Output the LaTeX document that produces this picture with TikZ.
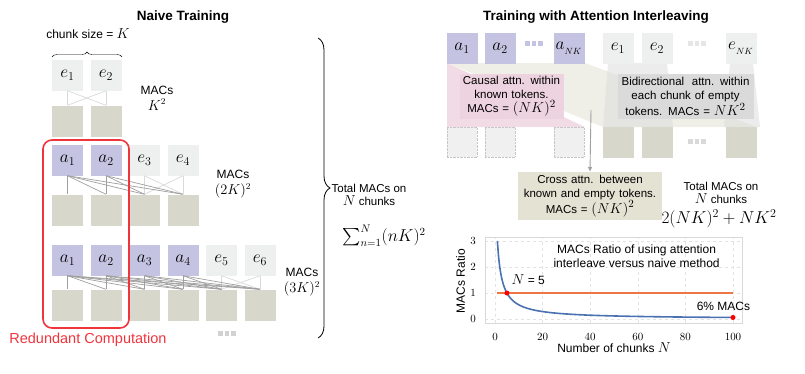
\documentclass[tikz,border=0pt]{standalone}
\usepackage{fontspec}
\setmainfont{Liberation Sans}
\usepackage{amsmath}
\usetikzlibrary{arrows.meta, calc, positioning, decorations.pathreplacing}
\definecolor{knowncol}{RGB}{196, 196, 226}
\definecolor{emptycol}{RGB}{238, 240, 239}
\definecolor{outcol}{RGB}{215, 215, 203}
\definecolor{pinkcol}{RGB}{237, 211, 223}
\definecolor{bicol}{RGB}{217, 218, 217}
\definecolor{crosscol}{RGB}{228, 226, 211}
\definecolor{bandcol}{RGB}{226, 225, 212}
\definecolor{curveblue}{RGB}{74, 114, 178}
\definecolor{lineorange}{RGB}{236, 118, 70}
\definecolor{redboxcol}{RGB}{240, 52, 60}
\newcommand{\bigmath}[1]{{\fontsize{15}{15}\selectfont$#1$}}
\newcommand{\midmath}[1]{{\fontsize{13.5}{13.5}\selectfont$#1$}}

\tikzset{
	tok/.style={minimum size=31pt, inner sep=0pt, font=\fontsize{18}{18}\selectfont},
	atok/.style={tok, fill=knowncol},
	etok/.style={tok, fill=emptycol},
	outbox/.style={minimum size=31pt, inner sep=0pt, fill=outcol},
	ghostbox/.style={minimum size=30pt, inner sep=0pt, fill=gray!12, draw=gray!45, densely dotted},
	causal/.style={draw=gray!75, line width=0.7pt},
	bidir/.style={draw=gray!30, line width=0.7pt},
	title/.style={font=\fontsize{13.5}{15}\selectfont\bfseries},
	lbl/.style={font=\fontsize{12}{14}\selectfont, align=center},
	smalllbl/.style={font=\fontsize{11.5}{13}\selectfont, align=center},
	infobox/.style={font=\fontsize{11.5}{14}\selectfont, align=center, inner sep=3pt},
	gridline/.style={draw=gray!22, dashed, line width=0.5pt},
	dot/.style={circle, fill=red, inner sep=0pt, minimum size=5pt}
}

\begin{document}
\begin{tikzpicture}[x=1pt, y=-1pt]
	\useasboundingbox (0,0) rectangle (805,373);
	
	% Naive training
	\node[title] (naive) at (183,17) {Naive Training};
	\node[lbl] (chunk) at (88,34) {chunk size = \midmath{K}};
	\draw[decorate, decoration={brace, amplitude=5pt}] (52,57) -- (122,57);
	
	\foreach \i in {1,2}
	{
		\node[etok] (r1t\i) at ({67.5+38.5*(\i-1)},75) {$e_{\i}$};
		\node[outbox] (r1o\i) at ({67.5+38.5*(\i-1)},121) {};
	}
	\foreach \i in {1,2}
		\foreach \j in {1,2}
			\draw[bidir] (r1t\i.south) -- (r1o\j.north);
	\node[lbl] (mac1) at (157,98) {MACs\\[2pt]\midmath{K^2}};
	
	\foreach \i/\s/\l in {1/atok/a,2/atok/a,3/etok/e,4/etok/e}
	{
		\node[\s] (r2t\i) at ({67.5+38.5*(\i-1)},160) {$\l_{\i}$};
		\node[outbox] (r2o\i) at ({67.5+38.5*(\i-1)},210) {};
	}
	\foreach \i in {3,4}
		\foreach \j in {3,4}
			\draw[bidir] (r2t\i.south) -- (r2o\j.north);
	\foreach \i in {1,2}
		\foreach \j in {\i,...,4}
			\draw[causal] (r2t\i.south) -- (r2o\j.north);
	\node[lbl] (mac2) at (233,184) {MACs\\[2pt]\midmath{(2K)^2}};
	
	\foreach \i/\s/\l in {1/atok/a,2/atok/a,3/atok/a,4/atok/a,5/etok/e,6/etok/e}
	{
		\node[\s] (r3t\i) at ({67.5+38.5*(\i-1)},260) {$\l_{\i}$};
		\node[outbox] (r3o\i) at ({67.5+38.5*(\i-1)},305) {};
	}
	\foreach \i in {5,6}
		\foreach \j in {5,6}
			\draw[bidir] (r3t\i.south) -- (r3o\j.north);
	\foreach \i in {1,...,4}
		\foreach \j in {\i,...,6}
			\draw[causal] (r3t\i.south) -- (r3o\j.north);
	\node[lbl] (mac3) at (302,282) {MACs\\[2pt]\midmath{(3K)^2}};
	\foreach \k in {0,1,2}
		\fill[gray!35] (218+\k*6.5,331) rectangle ++(4.5,4.5);
	
	\draw[redboxcol, line width=1.6pt, rounded corners=9pt] (43,140) rectangle (129,328);
	\node[font=\fontsize{14.5}{16}\selectfont, text=redboxcol] (redund) at (88,340) {Redundant Computation};
	
	\draw[decorate, decoration={brace, amplitude=12pt}, line width=0.8pt] (318,38) -- (318,338);
	\node[smalllbl] (totl) at (369,195) {Total MACs on\\\midmath{N} chunks};
	\node[font=\fontsize{16}{16}\selectfont, inner sep=1pt] (suml) at (384,236) {$\sum_{n=1}^{N}(nK)^2$};
	
	% Attention interleaving
	\node[title] (inter) at (596,17) {Training with Attention Interleaving};
	\fill[bandcol, opacity=0.55] (447,63) -- (585,63) -- (757,127) -- (603,127) -- cycle;
	\fill[pinkcol, opacity=0.8] (447,63) -- (585,127) -- (447,127) -- cycle;
	\fill[bicol, opacity=0.5] (608,63) -- (667,63) -- (673,127) -- (603,127) -- cycle;
	\fill[bicol, opacity=0.5] (730,63) -- (753,63) -- (760,127) -- (724,127) -- cycle;
	
	\node[atok] (ka1) at (462,48) {$a_1$};
	\node[atok] (ka2) at (500,48) {$a_2$};
	\node[atok] (kaN) at (569,48) {$a_{_{NK}}$};
	\node[etok] (ke1) at (618,48) {$e_1$};
	\node[etok] (ke2) at (657,48) {$e_2$};
	\node[etok] (keN) at (741,48) {$e_{_{NK}}$};
	\node[ghostbox] (kg1) at (462,142) {};
	\node[ghostbox] (kg2) at (500,142) {};
	\node[ghostbox] (kgN) at (569,142) {};
	\node[outbox] (ko1) at (618,142) {};
	\node[outbox] (ko2) at (657,142) {};
	\node[outbox] (koN) at (741,142) {};
	\foreach \k in {0,1,2}
	{
		\fill[knowncol] (525+\k*6.5,41) rectangle ++(4.5,4.5);
		\fill[gray!20] (688+\k*6.5,41) rectangle ++(4.5,4.5);
		\fill[gray!30] (688+\k*6.5,139) rectangle ++(4.5,4.5);
	}
	
	\node[infobox, fill=pinkcol, text width=98pt] (causalbox) at (511.5,96.5) {Causal attn. within\\known tokens.\\MACs = \bigmath{(NK)^2}};
	\node[infobox, fill=bicol, text width=130pt] (bibox) at (685.5,96.5) {Bidirectional~ attn. within\\each chunk of empty\\tokens. MACs = \bigmath{NK^2}};
	\node[infobox, fill=crosscol, text width=138pt] (crossbox) at (590,196) {Cross attn. between\\known and empty tokens.\\MACs = \bigmath{(NK)^2}};
	\coordinate (arrtop) at (591,110);
	\draw[gray!75, line width=0.9pt, -{Latex[length=5pt,width=4.5pt]}] (arrtop) -- (crossbox.north);
	\node[smalllbl] (totr) at (721,193) {Total MACs on\\\midmath{N} chunks};
	\node[font=\fontsize{17}{17}\selectfont] (formr) at (719,219) {$2(NK)^2+NK^2$};
	
	% MACs ratio plot
	\begin{scope}[shift={(495,319)}, x=2.38pt, y=26pt]
		\foreach \n in {0,20,...,100}
		{
			\draw[gridline] (\n,-0.15) -- (\n,3.15);
			\node[font=\fontsize{11}{11}\selectfont] (xt\n) at (\n,-0.68) {$\n$};
		}
		\foreach \r in {0,1,2,3}
		{
			\draw[gridline] (-4.2,\r) -- (104,\r);
			\node[font=\fontsize{11}{11}\selectfont] (yt\r) at (-9.2,\r) {$\r$};
		}
		\draw[gray!30, line width=0.6pt] (-4.2,-0.15) rectangle (104,3.15);
		\draw[lineorange, line width=1.5pt] (1,1) -- (100,1);
		\draw[curveblue, line width=1.6pt] plot[domain=1:100, samples=200, smooth] (\x,{6/(\x+1)});
		\node[dot] (n5) at (5,1) {};
		\node[dot] (n100) at (100,{6/101}) {};
		\node[lbl, anchor=south west] (n5lbl) at (5.5,1.2) {\midmath{N} = 5};
		\node[lbl] (pct) at (96,0.47) {6\% MACs};
		\node[lbl] (ptitle) at (59.5,2.42) {MACs Ratio of using attention\\interleave versus naive method};
		\node[lbl, rotate=90] (ylab) at (-14.5,1.46) {MACs Ratio};
		\node[lbl] (xlab) at (50,-1.12) {Number of chunks \midmath{N}};
	\end{scope}
\end{tikzpicture}
\end{document}
